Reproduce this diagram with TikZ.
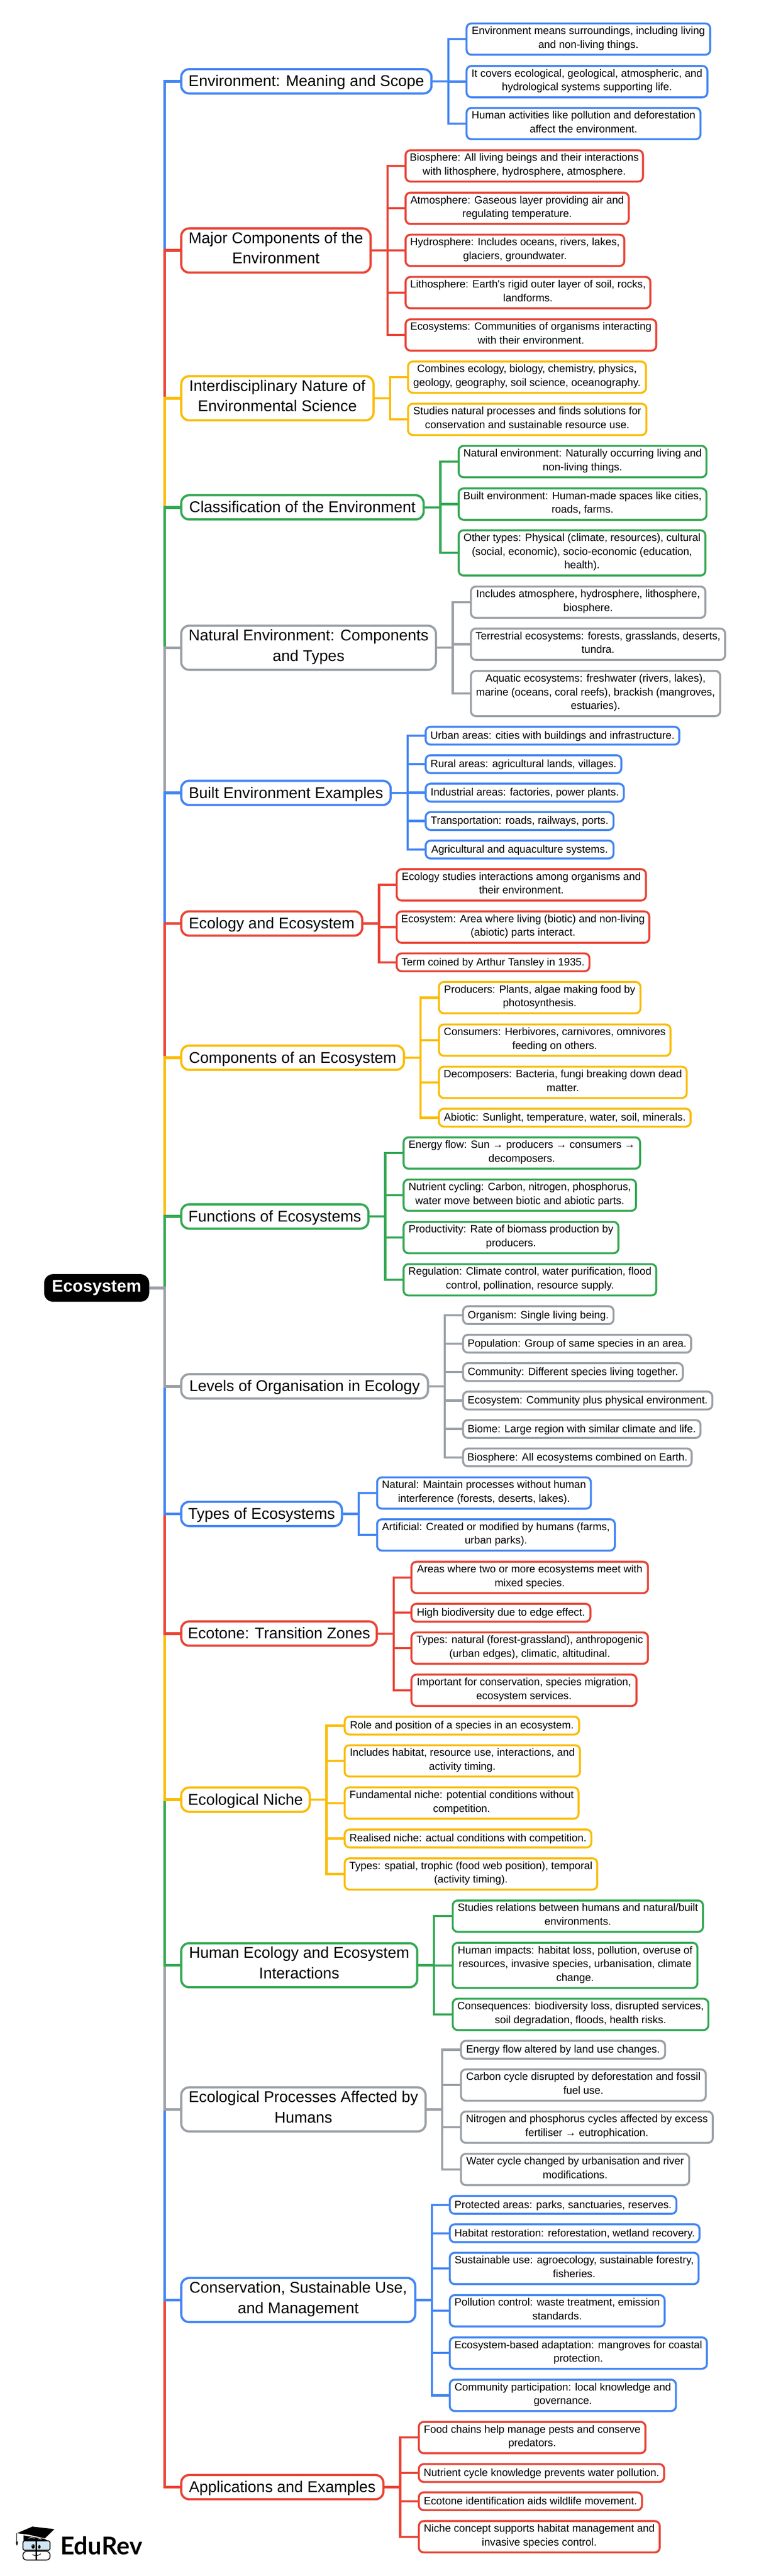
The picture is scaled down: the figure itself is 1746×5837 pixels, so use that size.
\documentclass[tikz,border=0pt]{standalone}
\usepackage{fontspec}
\setmainfont{Liberation Sans}
\newfontfamily\lsans{Liberation Sans}
\newfontfamily\logofont{Lato}[BoldFont=Lato Bold]
\definecolor{bl}{HTML}{4285F4}
\definecolor{rd}{HTML}{EA4335}
\definecolor{yl}{HTML}{FBBC04}
\definecolor{gn}{HTML}{34A853}
\definecolor{gy}{HTML}{9AA0A6}
\definecolor{glass}{HTML}{CFE6F5}
\newcommand\leafstrut{\rule[-8pt]{0pt}{31pt}}
\newcommand\mainstrut{\rule[-11.3pt]{0pt}{46pt}}
\tikzset{
  leaf/.style={draw=#1,line width=4.5pt,fill=white,rounded corners=11pt,anchor=west,xshift=2.25pt,
    inner sep=0pt,outer sep=0pt,align=center,font=\lsans\fontsize{24}{31}\selectfont,
    execute at begin node=\leafstrut,execute at end node=\leafstrut},
  xspan/.style 2 args={minimum width={#2-#1-4.5}},
  hone/.style={minimum height=40.5pt},
  htwo/.style={minimum height=71pt},
  hthree/.style={minimum height=102.5pt},
  mainbox/.style={draw=#1,line width=5pt,fill=white,rounded corners=18pt,anchor=west,xshift=2.5pt,
    inner sep=0pt,outer sep=0pt,align=center,font=\lsans\fontsize{35.2}{46}\selectfont,
    execute at begin node=\mainstrut,execute at end node=\mainstrut},
  mspan/.style={minimum width={#1-408-5}},
  mone/.style={minimum height=55pt},
  mtwo/.style={minimum height=100pt},
  rootbox/.style={fill=black,text=white,rounded corners=20pt,anchor=west,inner sep=0pt,outer sep=0pt,
    minimum width=238pt,minimum height=62.5pt,font=\lsans\bfseries\fontsize{38.4}{46.2}\selectfont},
  trunk/.style={draw=#1,line width=6.5pt},
  link/.style={draw=#1,line width=5pt},
  logotxt/.style={anchor=base west,inner sep=0pt,outer sep=0pt,font=\logofont\bfseries\fontsize{55.5}{60}\selectfont}
}
\begin{document}
\begin{tikzpicture}[x=1pt,y=-1pt]
\useasboundingbox (0,0) rectangle (1746,5837);
% root
\node[rootbox] (root) at (100,2918.4) {Ecosystem};
% main topics
\node[mainbox=bl,mspan=980,mone] (mA) at (408,184.3) {Environment: Meaning and Scope};
\node[mainbox=rd,mspan=842,mtwo] (mB) at (408,567.6) {Major Components of the\\Environment};
\node[mainbox=yl,mspan=848.5,mtwo] (mC) at (408,902.4) {Interdisciplinary Nature of\\Environmental Science};
\node[mainbox=gn,mspan=962,mone] (mD) at (408,1149.6) {Classification of the Environment};
\node[mainbox=gy,mspan=990,mtwo] (mE) at (408,1467.8) {Natural Environment: Components\\and Types};
\node[mainbox=bl,mspan=887.5,mone] (mF) at (408,1796.6) {Built Environment Examples};
\node[mainbox=rd,mspan=823,mone] (mG) at (408,2092.5) {Ecology and Ecosystem};
\node[mainbox=yl,mspan=917.5,mone] (mH) at (408,2396.7) {Components of an Ecosystem};
\node[mainbox=gn,mspan=837,mone] (mI) at (408,2756.4) {Functions of Ecosystems};
\node[mainbox=gy,mspan=972,mone] (mJ) at (408,3141.3) {Levels of Organisation in Ecology};
\node[mainbox=bl,mspan=777,mone] (mK) at (408,3430.5) {Types of Ecosystems};
\node[mainbox=rd,mspan=856,mone] (mL) at (408,3701.5) {Ecotone: Transition Zones};
\node[mainbox=yl,mspan=704,mone] (mM) at (408,4077.8) {Ecological Niche};
\node[mainbox=gn,mspan=947.6,mtwo] (mN) at (408,4453) {Human Ecology and Ecosystem\\Interactions};
\node[mainbox=gy,mspan=966.5,mtwo] (mO) at (408,4779.7) {Ecological Processes Affected by\\Humans};
\node[mainbox=bl,mspan=943,mtwo] (mP) at (408,5211.7) {Conservation, Sustainable Use,\\and Management};
\node[mainbox=rd,mspan=871,mone] (mQ) at (408,5635.6) {Applications and Examples};
% trunk, far branches first
\foreach \m/\c in {mA/bl,mB/rd,mC/yl,mD/gn,mE/gy,mF/bl,mG/rd,mH/yl,mI/gn,mQ/rd,mP/bl,mO/gy,mN/gn,mM/yl,mL/rd,mK/bl,mJ/gy}
  \draw[trunk=\c] (root.east) -- ++(35,0) |- (\m.west);
% A
\node[leaf=bl,xspan={1054.6}{1611},htwo] (a1) at (1054.6,88.6) {Environment means surroundings, including living\\and non-living things.};
\node[leaf=bl,xspan={1054.6}{1604.6},htwo] (a2) at (1054.6,185) {It covers ecological, geological, atmospheric, and\\hydrological systems supporting life.};
\node[leaf=bl,xspan={1054.6}{1589},htwo] (a3) at (1054.6,280) {Human activities like pollution and deforestation\\affect the environment.};
% B
\node[leaf=rd,xspan={916.5}{1458.7},htwo] (b1) at (916.5,376) {Biosphere: All living beings and their interactions\\with lithosphere, hydrosphere, atmosphere.};
\node[leaf=rd,xspan={916.5}{1426.4},htwo] (b2) at (916.5,472) {Atmosphere: Gaseous layer providing air and\\regulating temperature.};
\node[leaf=rd,xspan={916.5}{1416.4},htwo] (b3) at (916.5,567.3) {Hydrosphere: Includes oceans, rivers, lakes,\\glaciers, groundwater.};
\node[leaf=rd,xspan={916.5}{1475.4},htwo] (b4) at (916.5,663) {Lithosphere: Earth's rigid outer layer of soil, rocks,\\landforms.};
\node[leaf=rd,xspan={916.5}{1488.8},htwo] (b5) at (916.5,759) {Ecosystems: Communities of organisms interacting\\with their environment.};
% C
\node[leaf=yl,xspan={922}{1465.4},htwo] (c1) at (922,854.6) {Combines ecology, biology, chemistry, physics,\\geology, geography, soil science, oceanography.};
\node[leaf=yl,xspan={922}{1466.5},htwo] (c2) at (922,950.3) {Studies natural processes and finds solutions for\\conservation and sustainable resource use.};
% D
\node[leaf=gn,xspan={1036.7}{1602.4},htwo] (d1) at (1036.7,1045.9) {Natural environment: Naturally occurring living and\\non-living things.};
\node[leaf=gn,xspan={1036.7}{1602.4},htwo] (d2) at (1036.7,1142.2) {Built environment: Human-made spaces like cities,\\roads, farms.};
\node[leaf=gn,xspan={1036.7}{1600},hthree] (d3) at (1036.7,1252.9) {Other types: Physical (climate, resources), cultural\\(social, economic), socio-economic (education,\\health).};
% E
\node[leaf=gy,xspan={1064.5}{1600},htwo] (e1) at (1064.5,1364.5) {Includes atmosphere, hydrosphere, lithosphere,\\biosphere.};
\node[leaf=gy,xspan={1064.5}{1644.7},htwo] (e2) at (1064.5,1459.8) {Terrestrial ecosystems: forests, grasslands, deserts,\\tundra.};
\node[leaf=gy,xspan={1064.5}{1633.5},hthree] (e3) at (1064.5,1571.4) {Aquatic ecosystems: freshwater (rivers, lakes),\\marine (oceans, coral reefs), brackish (mangroves,\\estuaries).};
% F
\node[leaf=bl,xspan={962}{1541},hone] (f1) at (962,1667) {Urban areas: cities with buildings and infrastructure.};
\node[leaf=bl,xspan={962}{1409.7},hone] (f2) at (962,1731.5) {Rural areas: agricultural lands, villages.};
\node[leaf=bl,xspan={962}{1415.3},hone] (f3) at (962,1796) {Industrial areas: factories, power plants.};
\node[leaf=bl,xspan={962}{1392},hone] (f4) at (962,1860.3) {Transportation: roads, railways, ports.};
\node[leaf=bl,xspan={962}{1392},hone] (f5) at (962,1925) {Agricultural and aquaculture systems.};
% G
\node[leaf=rd,xspan={896.4}{1465.4},htwo] (g1) at (896.4,2005) {Ecology studies interactions among organisms and\\their environment.};
\node[leaf=rd,xspan={896.4}{1473},htwo] (g2) at (896.4,2100.8) {Ecosystem: Area where living (biotic) and non-living\\(abiotic) parts interact.};
\node[leaf=rd,xspan={896.4}{1337.4},hone] (g3) at (896.4,2180.5) {Term coined by Arthur Tansley in 1935.};
% H
\node[leaf=yl,xspan={992}{1453},htwo] (h1) at (992,2260.5) {Producers: Plants, algae making food by\\photosynthesis.};
\node[leaf=yl,xspan={992}{1521},htwo] (h2) at (992,2356.8) {Consumers: Herbivores, carnivores, omnivores\\feeding on others.};
\node[leaf=yl,xspan={992}{1557.8},htwo] (h3) at (992,2452.5) {Decomposers: Bacteria, fungi breaking down dead\\matter.};
\node[leaf=yl,xspan={992}{1566.7},hone] (h4) at (992,2532.5) {Abiotic: Sunlight, temperature, water, soil, minerals.};
% I
\node[leaf=gn,xspan={912}{1452},htwo] (i1) at (912,2612.6) {Energy flow: Sun → producers → consumers →\\decomposers.};
\node[leaf=gn,xspan={912}{1443},htwo] (i2) at (912,2708.2) {Nutrient cycling: Carbon, nitrogen, phosphorus,\\water move between biotic and abiotic parts.};
\node[leaf=gn,xspan={912}{1403},htwo] (i3) at (912,2804.2) {Productivity: Rate of biomass production by\\producers.};
\node[leaf=gn,xspan={912}{1488.8},htwo] (i4) at (912,2899.9) {Regulation: Climate control, water purification, flood\\control, pollination, resource supply.};
% J
\node[leaf=gy,xspan={1046.7}{1392},hone] (j1) at (1046.7,2980) {Organism: Single living being.};
\node[leaf=gy,xspan={1046.7}{1567.8},hone] (j2) at (1046.7,3044.6) {Population: Group of same species in an area.};
\node[leaf=gy,xspan={1046.7}{1549},hone] (j3) at (1046.7,3109) {Community: Different species living together.};
\node[leaf=gy,xspan={1046.7}{1615.8},hone] (j4) at (1046.7,3173.5) {Ecosystem: Community plus physical environment.};
\node[leaf=gy,xspan={1046.7}{1589},hone] (j5) at (1046.7,3237.9) {Biome: Large region with similar climate and life.};
\node[leaf=gy,xspan={1046.7}{1569},hone] (j6) at (1046.7,3302.3) {Biosphere: All ecosystems combined on Earth.};
% K
\node[leaf=bl,xspan={851.9}{1340.7},htwo] (k1) at (851.9,3383) {Natural: Maintain processes without human\\interference (forests, deserts, lakes).};
\node[leaf=bl,xspan={851.9}{1395},htwo] (k2) at (851.9,3478) {Artificial: Created or modified by humans (farms,\\urban parks).};
% L
\node[leaf=rd,xspan={929.8}{1470},htwo] (l1) at (929.8,3574.3) {Areas where two or more ecosystems meet with\\mixed species.};
\node[leaf=rd,xspan={929.8}{1339.6},hone] (l2) at (929.8,3654.3) {High biodiversity due to edge effect.};
\node[leaf=rd,xspan={929.8}{1470},htwo] (l3) at (929.8,3734.4) {Types: natural (forest-grassland), anthropogenic\\(urban edges), climatic, altitudinal.};
\node[leaf=rd,xspan={929.8}{1444},htwo] (l4) at (929.8,3830) {Important for conservation, species migration,\\ecosystem services.};
% M
\node[leaf=yl,xspan={778.4}{1314},hone] (n1) at (778.4,3910) {Role and position of a species in an ecosystem.};
\node[leaf=yl,xspan={778.4}{1316},htwo] (n2) at (778.4,3990) {Includes habitat, resource use, interactions, and\\activity timing.};
\node[leaf=yl,xspan={778.4}{1312.8},htwo] (n3) at (778.4,4085.5) {Fundamental niche: potential conditions without\\competition.};
\node[leaf=yl,xspan={778.4}{1341.8},hone] (n4) at (778.4,4165.8) {Realised niche: actual conditions with competition.};
\node[leaf=yl,xspan={778.4}{1355},htwo] (n5) at (778.4,4246.2) {Types: spatial, trophic (food web position), temporal\\(activity timing).};
% N
\node[leaf=gn,xspan={1023.3}{1594.6},htwo] (p1) at (1023.3,4341.8) {Studies relations between humans and natural/built\\environments.};
\node[leaf=gn,xspan={1023.3}{1582},hthree] (p2) at (1023.3,4453.4) {Human impacts: habitat loss, pollution, overuse of\\resources, invasive species, urbanisation, climate\\change.};
\node[leaf=gn,xspan={1023.3}{1606.8},htwo] (p3) at (1023.3,4564.4) {Consequences: biodiversity loss, disrupted services,\\soil degradation, floods, health risks.};
% O
\node[leaf=gy,xspan={1042}{1508.8},hone] (q1) at (1042,4644.5) {Energy flow altered by land use changes.};
\node[leaf=gy,xspan={1042}{1601},htwo] (q2) at (1042,4724.5) {Carbon cycle disrupted by deforestation and fossil\\fuel use.};
\node[leaf=gy,xspan={1042}{1616.8},htwo] (q3) at (1042,4820) {Nitrogen and phosphorus cycles affected by excess\\fertiliser → eutrophication.};
\node[leaf=gy,xspan={1042}{1563.4},htwo] (q4) at (1042,4915.8) {Water cycle changed by urbanisation and river\\modifications.};
% P
\node[leaf=bl,xspan={1016.6}{1534.4},hone] (r1) at (1016.6,4996) {Protected areas: parks, sanctuaries, reserves.};
\node[leaf=bl,xspan={1016.6}{1586.8},hone] (r2) at (1016.6,5060.3) {Habitat restoration: reforestation, wetland recovery.};
\node[leaf=bl,xspan={1016.6}{1584.6},htwo] (r3) at (1016.6,5140) {Sustainable use: agroecology, sustainable forestry,\\fisheries.};
\node[leaf=bl,xspan={1016.6}{1507.7},htwo] (r4) at (1016.6,5236) {Pollution control: waste treatment, emission\\standards.};
\node[leaf=bl,xspan={1016.6}{1603.5},htwo] (r5) at (1016.6,5331.8) {Ecosystem-based adaptation: mangroves for coastal\\protection.};
\node[leaf=bl,xspan={1016.6}{1533.3},htwo] (r6) at (1016.6,5427.6) {Community participation: local knowledge and\\governance.};
% Q
\node[leaf=rd,xspan={946.5}{1464.3},htwo] (s1) at (946.5,5523.2) {Food chains help manage pests and conserve\\predators.};
\node[leaf=rd,xspan={946.5}{1506.6},hone] (s2) at (946.5,5603.6) {Nutrient cycle knowledge prevents water pollution.};
\node[leaf=rd,xspan={946.5}{1456.5},hone] (s3) at (946.5,5667.6) {Ecotone identification aids wildlife movement.};
\node[leaf=rd,xspan={946.5}{1496.6},htwo] (s4) at (946.5,5748) {Niche concept supports habitat management and\\invasive species control.};
% sub-branches
\foreach \m/\c/\L in {mA/bl/{a1,a2,a3},mB/rd/{b1,b2,b3,b4,b5},mC/yl/{c1,c2},mD/gn/{d1,d2,d3},mE/gy/{e1,e2,e3},
  mF/bl/{f1,f2,f3,f4,f5},mG/rd/{g1,g2,g3},mH/yl/{h1,h2,h3,h4},mI/gn/{i1,i2,i3,i4},mJ/gy/{j1,j2,j3,j4,j5,j6},
  mK/bl/{k1,k2},mL/rd/{l1,l2,l3,l4},mM/yl/{n1,n2,n3,n4,n5},mN/gn/{p1,p2,p3},mO/gy/{q1,q2,q3,q4},
  mP/bl/{r1,r2,r3,r4,r5,r6},mQ/rd/{s1,s2,s3,s4}}
  \foreach \t in \L
    \draw[link=\c] (\m.east) -- ++(38,0) |- (\t.west);
% logo
\begin{scope}[shift={(20,5710)},x=0.3333pt,y=-0.3333pt]
  \fill (100,105) -- (240,128) -- (268,142) -- (100,142) -- cycle;
  \fill[white] (130,128) .. controls (145,112) and (165,115) .. (178,128) .. controls (165,120) and (145,120) .. (130,128) -- cycle;
  \fill[white] (195,130) .. controls (205,122) and (218,124) .. (226,134) .. controls (215,128) and (205,128) .. (195,130) -- cycle;
  \fill (160,45) -- (310,62) -- (245,125) -- (135,100) -- (55,90) -- cycle;
  \draw[line width=1.2pt] (55,90) -- (55,145);
  \fill (55,142) .. controls (46,150) and (48,162) .. (55,175) .. controls (62,162) and (64,150) .. (55,142) -- cycle;
  \draw[line width=2pt,fill=glass,rounded corners=4pt] (96,142) rectangle (280,206);
  \draw[line width=2pt,rounded corners=8pt] (96,214) rectangle (280,272);
  \draw[line width=2.4pt] (187,140) -- (187,276);
  \fill (165,180) ellipse [x radius=11,y radius=16];
  \fill (207,182) ellipse [x radius=9,y radius=13];
  \fill[white] (162,172) circle (3);
  \fill[white] (204,175) circle (3);
  \draw[line width=1.4pt] (160,235) .. controls (175,245) and (200,245) .. (217,230);
\end{scope}
\node[logotxt] (brand) at (137,5789) {EduRev};
\end{tikzpicture}
\end{document}
